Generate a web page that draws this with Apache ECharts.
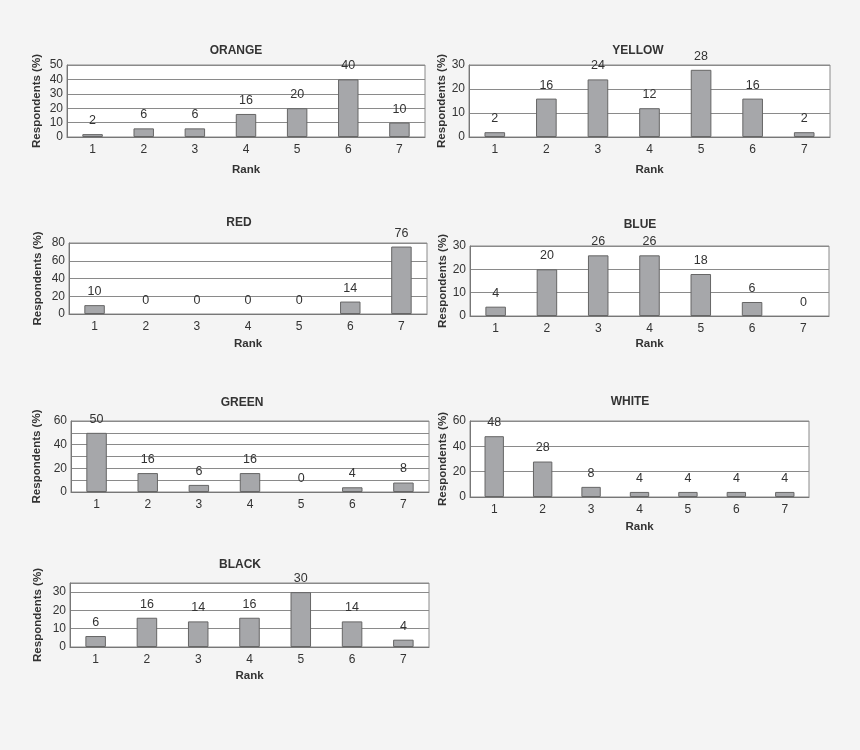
<!DOCTYPE html>
<html>
<head>
<meta charset="utf-8">
<script src="https://cdn.jsdelivr.net/npm/echarts@6/dist/echarts.min.js"></script>
<style>
  html, body { margin: 0; padding: 0; background: #f4f4f4; }
  #main { width: 860px; height: 750px; }
</style>
</head>
<body>
<div id="main"></div>
<script>
// data
var ranks = ['1', '2', '3', '4', '5', '6', '7'];
var colourNames = ['ORANGE', 'YELLOW', 'RED', 'BLUE', 'GREEN', 'WHITE', 'BLACK'];
var orange = [2, 6, 6, 16, 20, 40, 10];
var yellow = [2, 16, 24, 12, 28, 16, 2];
var red = [10, 0, 0, 0, 0, 14, 76];
var blue = [4, 20, 26, 26, 18, 6, 0];
var green = [50, 16, 6, 16, 0, 4, 8];
var white = [48, 28, 8, 4, 4, 4, 4];
var black = [6, 16, 14, 16, 30, 14, 4];
var seriesData = [orange, yellow, red, blue, green, white, black];
// y axis max, line step, label step
var yMax = [50, 30, 80, 30, 60, 60, 35];
var yStep = [10, 10, 20, 10, 10, 20, 10];
var yLabelStep = [10, 10, 20, 10, 20, 20, 10];
var hasRankLabel = [true, true, true, true, false, true, true];

// layout of each small panel
var panels = [
  { left: 67, top: 65, width: 358, height: 72, titleX: 231, titleY: 40, yGap: 24, xGap: 27 },
  { left: 469, top: 65, width: 361, height: 72, titleX: 633, titleY: 40, yGap: 20, xGap: 27 },
  { left: 69, top: 243, width: 358, height: 71, titleX: 234, titleY: 212, yGap: 25, xGap: 24 },
  { left: 470, top: 246, width: 359, height: 70, titleX: 635, titleY: 214, yGap: 20, xGap: 22 },
  { left: 71, top: 421, width: 358, height: 71, titleX: 237, titleY: 392, yGap: 28, xGap: 24 },
  { left: 470, top: 421, width: 339, height: 76, titleX: 625, titleY: 391, yGap: 21, xGap: 24 },
  { left: 70, top: 583, width: 359, height: 64, titleX: 235, titleY: 554, yGap: 26, xGap: 23 }
];

var font = 'Liberation Sans, Arial, sans-serif';
var textColor = '#333';

var option = {
  backgroundColor: '#f4f4f4',
  animation: false,
  title: [],
  grid: [],
  xAxis: [],
  yAxis: [],
  series: []
};

for (let i = 0; i < panels.length; i++) {
  let p = panels[i];
  option.title.push({
    text: colourNames[i],
    left: p.titleX,
    top: p.titleY,
    textAlign: 'center',
    textStyle: { fontFamily: font, fontSize: 12, fontWeight: 'bold', color: textColor }
  });
  option.grid.push({
    left: p.left, top: p.top, width: p.width, height: p.height,
    show: true,
    backgroundColor: '#ffffff',
    borderColor: '#8a8a8a',
    borderWidth: 1
  });
  option.xAxis.push({
    type: 'category',
    gridIndex: i,
    data: ranks,
    name: hasRankLabel[i] ? 'Rank' : '',
    nameLocation: 'middle',
    nameGap: p.xGap,
    nameTextStyle: { fontFamily: font, fontSize: 11.5, fontWeight: 'bold', color: textColor },
    axisLine: { show: true, lineStyle: { color: '#777' } },
    axisTick: { show: false },
    axisLabel: { fontFamily: font, fontSize: 12, color: textColor, margin: 7 }
  });
  let labelStep = yLabelStep[i];
  option.yAxis.push({
    type: 'value',
    gridIndex: i,
    min: 0,
    max: yMax[i],
    interval: yStep[i],
    name: 'Respondents (%)',
    nameLocation: 'middle',
    nameGap: p.yGap,
    nameTextStyle: { fontFamily: font, fontSize: 11.5, fontWeight: 'bold', color: textColor },
    axisLine: { show: true, lineStyle: { color: '#777' } },
    axisTick: { show: false },
    axisLabel: {
      fontFamily: font, fontSize: 12, color: textColor, margin: 4,
      formatter: function (v) { return v % labelStep === 0 ? String(v) : ''; }
    },
    splitLine: { show: true, lineStyle: { color: '#8a8a8a', width: 1 } }
  });
  // zero bars have no visible outline in the original
  let items = seriesData[i].map(function (v) {
    return v === 0 ? { value: v, itemStyle: { borderWidth: 0 } } : v;
  });
  option.series.push({
    type: 'bar',
    xAxisIndex: i,
    yAxisIndex: i,
    data: items,
    barWidth: '40%',
    itemStyle: { color: '#a6a7aa', borderColor: '#666', borderWidth: 1 },
    label: {
      show: true,
      position: 'top',
      distance: 7,
      fontFamily: font,
      fontSize: 12.5,
      color: textColor
    }
  });
}

var chart = echarts.init(document.getElementById('main'));
chart.setOption(option);
</script>
</body>
</html>
